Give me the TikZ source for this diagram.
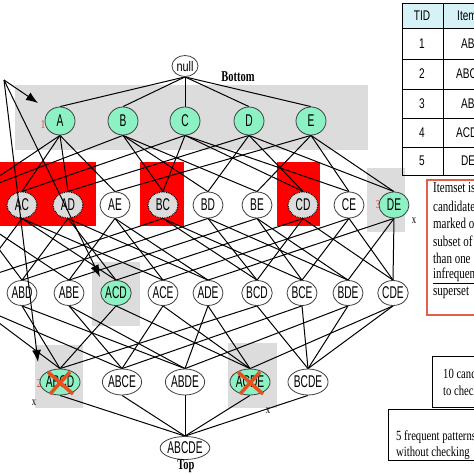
\documentclass[tikz,border=0pt]{standalone}
\usepackage{fontspec}
\usetikzlibrary{shapes.geometric,arrows.meta}
\newfontfamily\nodef[FakeStretch=0.6]{Liberation Sans}
\newfontfamily\nullf[FakeStretch=0.78]{Liberation Sans}
\newfontfamily\tabf[FakeStretch=0.72]{Liberation Sans}
\newfontfamily\serf[FakeStretch=0.73]{Liberation Serif}
\newfontfamily\serff[FakeStretch=0.76]{Liberation Serif}
\newfontfamily\serbf[FakeStretch=0.7]{Liberation Serif Bold}
\definecolor{band}{RGB}{220,220,220}
\definecolor{mint}{RGB}{140,242,196}
\definecolor{hdr}{RGB}{214,242,246}
\definecolor{xred}{RGB}{232,80,30}
\definecolor{boxred}{RGB}{224,96,80}
\definecolor{numred}{RGB}{220,70,50}
\pgfdeclarelayer{bglayer}
\pgfdeclarelayer{edgelayer}
\pgfsetlayers{bglayer,edgelayer,main}
\begin{document}
\begin{tikzpicture}[x=1pt,y=-1pt,
  lv/.style={ellipse,draw=black!75,line width=0.8pt,fill=white,inner sep=0pt,
    font=\nodef\fontsize{17}{17}\selectfont},
  hidden/.style={ellipse,inner sep=0pt,minimum width=30pt,minimum height=26pt},
  sz1/.style={minimum width=30pt,minimum height=28pt},
  sz2/.style={minimum width=30pt,minimum height=26pt},
  sz3/.style={minimum width=30pt,minimum height=25pt},
  sz4/.style={minimum width=38pt,minimum height=26pt},
  green/.style={fill=mint},
  pruned/.style={fill=band,draw=black,densely dotted,line width=1.1pt},
  edge/.style={black,line width=1pt},
  ptr/.style={black,line width=1pt,-{Latex[length=12pt,width=9pt]}},
  xmark/.style={xred,line width=3.5pt},
  greybox/.style={fill=band,draw=none},
  redbox/.style={fill=red,draw=none},
  num/.style={text=numred,font=\serf\fontsize{12}{12}\selectfont,inner sep=0pt},
  xlab/.style={font=\serf\fontsize{12}{12}\selectfont,inner sep=0pt},
  title/.style={font=\serbf\fontsize{15}{15}\selectfont,inner sep=0pt},
  tabtxt/.style={font=\tabf\fontsize{14}{14}\selectfont,inner sep=0pt},
  boxtxt/.style={font=\serf\fontsize{15}{15}\selectfont,inner sep=0pt,anchor=west},
  boxtxtb/.style={font=\serff\fontsize{14}{14}\selectfont,inner sep=0pt,anchor=west},
]
\useasboundingbox (0,0) rectangle (474,474);
\clip (0,0) rectangle (474,474);

\begin{pgfonlayer}{bglayer}
\fill[white] (0,0) rectangle (474,474);
\fill[greybox] (15,85) rectangle (368,150);
\fill[redbox] (0,162) rectangle (96,226);
\fill[redbox] (140,162) rectangle (184,226);
\fill[redbox] (277,162) rectangle (320,226);
\fill[greybox] (367,168) rectangle (405,232);
\fill[greybox] (92,262) rectangle (140,326);
\fill[greybox] (35,345) rectangle (83,408);
\fill[greybox] (228,343) rectangle (277,408);
\end{pgfonlayer}

% nodes
\node[lv,minimum width=26pt,minimum height=21pt,font=\nullf\fontsize{14}{14}\selectfont] (null) at (185,66) {null};
\node[lv,sz1,green] (A) at (60,121) {A};
\node[lv,sz1,green] (B) at (123,121) {B};
\node[lv,sz1,green] (C) at (185,121) {C};
\node[lv,sz1,green] (D) at (249,121) {D};
\node[lv,sz1,green] (E) at (311,121) {E};

% off-picture itemsets (only their connectors show)
\node[hidden] (AB) at (-24,205) {};
\node[hidden,minimum height=25pt] (ABC) at (-24,293) {};

\node[lv,sz2,pruned] (AC) at (22,205) {AC};
\node[lv,sz2,pruned] (AD) at (68,205) {AD};
\node[lv,sz2] (AE) at (115,205) {AE};
\node[lv,sz2,pruned] (BC) at (163,205) {BC};
\node[lv,sz2] (BD) at (208,205) {BD};
\node[lv,sz2] (BE) at (257,205) {BE};
\node[lv,sz2,pruned] (CD) at (303,205) {CD};
\node[lv,sz2] (CE) at (349,205) {CE};
\node[lv,sz2,green] (DE) at (394,205) {DE};

\node[lv,sz3] (ABD) at (22,293) {ABD};
\node[lv,sz3] (ABE) at (69,293) {ABE};
\node[lv,sz3,green] (ACD) at (116,293) {ACD};
\node[lv,sz3] (ACE) at (163,293) {ACE};
\node[lv,sz3] (ADE) at (208,293) {ADE};
\node[lv,sz3] (BCD) at (257,293) {BCD};
\node[lv,sz3] (BCE) at (302,293) {BCE};
\node[lv,sz3] (BDE) at (348,293) {BDE};
\node[lv,sz3] (CDE) at (393,293) {CDE};

\node[lv,sz4,green] (ABCD) at (60,382) {ABCD};
\node[lv,sz4] (ABCE) at (122,382) {ABCE};
\node[lv,sz4] (ABDE) at (185,382) {ABDE};
\node[lv,sz4,green] (ACDE) at (250,382) {ACDE};
\node[lv,sz4] (BCDE) at (308,382) {BCDE};

\node[lv,minimum width=42pt,minimum height=23pt] (ABCDE) at (185,448) {ABCDE};

% edges behind nodes
\begin{pgfonlayer}{edgelayer}
\foreach \u/\v in {null/A,null/B,null/C,null/D,null/E,
  A/AB,A/AC,A/AD,A/AE,B/AB,B/BC,B/BD,B/BE,C/AC,C/BC,C/CD,C/CE,
  D/AD,D/BD,D/CD,D/DE,E/AE,E/BE,E/CE,E/DE,
  AB/ABC,AB/ABD,AB/ABE,AC/ABC,AC/ACD,AC/ACE,AD/ABD,AD/ACD,AD/ADE,
  AE/ABE,AE/ACE,AE/ADE,BC/ABC,BC/BCD,BC/BCE,BD/ABD,BD/BCD,BD/BDE,
  BE/ABE,BE/BCE,BE/BDE,CD/ACD,CD/BCD,CD/CDE,CE/ACE,CE/BCE,CE/CDE,
  DE/ADE,DE/BDE,DE/CDE,
  ABC/ABCD,ABC/ABCE,ABD/ABCD,ABD/ABDE,ABE/ABCE,ABE/ABDE,
  ACD/ABCD,ACD/ACDE,ACE/ABCE,ACE/ACDE,ADE/ABDE,ADE/ACDE,
  BCD/ABCD,BCD/BCDE,BCE/ABCE,BCE/BCDE,BDE/ABDE,BDE/BCDE,
  CDE/ACDE,CDE/BCDE,
  ABCD/ABCDE,ABCE/ABCDE,ABDE/ABCDE,ACDE/ABCDE,BCDE/ABCDE}
  \draw[edge] (\u.south) -- (\v.north);
% small numbers, partly hidden behind nodes
\node[num] (n1) at (43,125) {1};
\node[num] (n3a) at (378,205) {3};
\node[num] (n3b) at (103,293) {3};
\node[num] (n2) at (39,384) {2};
\node[num] (n4) at (232,379) {4};
\end{pgfonlayer}

% crosses on pruned nodes
\draw[xmark] ([shift={(-12,-10)}]ABCD.center) -- ([shift={(13,12)}]ABCD.center);
\draw[xmark] ([shift={(10,-10)}]ABCD.center) -- ([shift={(-10,12)}]ABCD.center);
\draw[xmark] ([shift={(-12,-10)}]ACDE.center) -- ([shift={(13,12)}]ACDE.center);
\draw[xmark] ([shift={(10,-10)}]ACDE.center) -- ([shift={(-10,12)}]ACDE.center);

% pointer arrows
\coordinate (apex) at (4,80);
\coordinate (tipA) at (38,103);
\coordinate (tipACD) at (100,277);
\coordinate (tipABCD) at (38,362);
\draw[ptr] (apex) -- (tipA);
\draw[ptr] (apex) -- (tipACD);
\draw[ptr] (apex) -- (tipABCD);

% labels
\node[title] (bot) at (238,77) {Bottom};
\node[title] (top) at (186,466) {Top};
\node[xlab] (x1) at (414,221) {x};
\node[xlab] (x2) at (34,403) {x};
\node[xlab] (x3) at (268,411) {x};

% table
\fill[hdr] (402,3) rectangle (520,28);
\draw[black,line width=0.9pt] (402,3) rectangle (520,175);
\foreach \yy in {28,59,89,118,147} \draw[black,line width=0.9pt] (402,\yy) -- (520,\yy);
\draw[black,line width=0.9pt] (443,3) -- (443,175);
\node[tabtxt] (t0) at (422,15.5) {TID};
\node[tabtxt] (t1) at (422,44) {1};
\node[tabtxt] (t2) at (422,74) {2};
\node[tabtxt] (t3) at (422,103.5) {3};
\node[tabtxt] (t4) at (422,132.5) {4};
\node[tabtxt] (t5) at (422,161) {5};
\node[tabtxt,anchor=west] (i0) at (457,15.5) {Items};
\node[tabtxt,anchor=west] (i1) at (461,44) {AB};
\node[tabtxt,anchor=west] (i2) at (456,74) {ABC};
\node[tabtxt,anchor=west] (i3) at (461,103.5) {AB};
\node[tabtxt,anchor=west] (i4) at (456,132.5) {ACD};
\node[tabtxt,anchor=west] (i5) at (461,161) {DE};

% explanation box
\draw[boxred,line width=1.8pt,fill=white] (427,180) rectangle (520,315);
\node[boxtxt] (b1) at (433,188) {Itemset is not a};
\node[boxtxt] (b2) at (433,206) {candidate if it is};
\node[boxtxt] (b3) at (433,223) {marked or it has a};
\node[boxtxt] (b4) at (433,241) {subset of more};
\node[boxtxt] (b5) at (433,258) {than one};
\node[boxtxt] (b6) at (433,276) {\underline{infrequent}};
\node[boxtxt] (b7) at (433,293) {superset};

% count boxes
\draw[black,line width=0.9pt,fill=white] (432,356) rectangle (520,407);
\node[boxtxtb] (c1) at (443,374) {10 candidates};
\node[boxtxtb] (c2) at (443,391) {to check};
\draw[black,line width=0.9pt,fill=white] (388,409) rectangle (520,460);
\node[boxtxtb] (c3) at (396,437) {5 frequent patterns};
\node[boxtxtb] (c4) at (396,453) {without checking};
\end{tikzpicture}
\end{document}
